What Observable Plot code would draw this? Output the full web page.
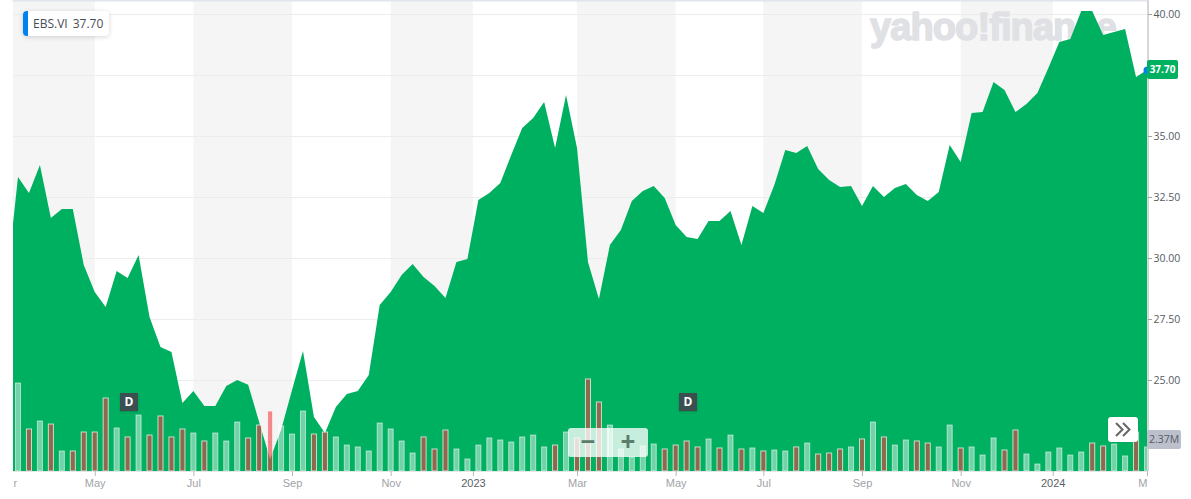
<!DOCTYPE html>
<html>
<head>
<meta charset="utf-8">
<script src="https://cdn.jsdelivr.net/npm/d3@7"></script>
<script src="https://cdn.jsdelivr.net/npm/@observablehq/plot@0.6"></script>
<style>
html,body{margin:0;padding:0;background:#fff;overflow:hidden}
#wrap{position:relative;width:1191px;height:499px;font-family:"Open Sans",sans-serif}
#wrap>svg{position:absolute;left:0;top:0}
.chip{position:absolute;box-sizing:border-box;white-space:nowrap}
#ticker{left:23px;top:11px;width:86px;height:25px;background:#fff;border-radius:4px;border-left:5px solid #0081f2;box-shadow:0 1px 5px rgba(0,0,0,.16);font-size:12px;line-height:25px;color:#464e56;padding-left:5px;font-weight:500}
#ticker span{margin-left:5px}
#last{left:1147px;top:60px;width:31px;height:19px;background:#00b061;border-radius:2px;color:#fff;font-size:10px;font-weight:700;line-height:19px;text-align:center}
#vol{left:1147px;top:430px;width:34px;height:19px;background:#bcbfcc;border-radius:2px;color:#565c63;font-size:10.5px;line-height:19px;text-align:center}
.d{top:393px;width:18px;height:18px;background:#3c4f50;color:#fff;font-size:12px;font-weight:700;line-height:18px;text-align:center;box-shadow:0 1px 2px rgba(0,0,0,.2)}
#zoombox{left:568px;top:428px;width:80px;height:29px;border-radius:3px;background:rgba(255,255,255,.78);color:#5c7c6c;font-size:26px;font-weight:700;line-height:27px}
#zoombox span{position:absolute;top:0;width:40px;text-align:center}
#zoombox i{position:absolute;left:40px;top:0;width:1px;height:29px;background:rgba(255,255,255,.5)}
#more{left:1108px;top:417px;width:30px;height:25px;background:#fff;border-radius:3px;box-shadow:0 0 2px rgba(0,0,0,.1)}
#more svg{position:absolute;left:7px;top:5px}
</style>
</head>
<body>
<div id="wrap"></div>
<script>
// Week index -1 is the point just left of the visible window
const prices = [29.14,33.32,32.66,33.81,31.64,32.01,32.01,29.71,28.61,27.99,29.47,29.18,30.12,27.58,26.35,26.15,24.06,24.55,23.93,23.93,24.75,25.00,24.80,23.28,21.76,22.95,24.59,26.19,23.48,22.83,23.89,24.43,24.55,25.20,28.07,28.61,29.30,29.75,29.22,28.85,28.36,29.84,29.96,32.38,32.66,33.07,34.22,35.33,35.74,36.39,34.51,36.68,34.51,29.84,28.32,30.53,31.15,32.34,32.75,32.95,32.46,31.35,30.86,30.78,31.52,31.52,31.93,30.53,32.13,31.84,32.99,34.43,34.30,34.59,33.65,33.20,32.91,32.95,32.13,32.95,32.50,32.87,33.03,32.58,32.34,32.70,34.63,33.93,35.94,35.98,37.21,36.89,35.98,36.31,36.76,37.79,38.85,38.98,40.12,40.12,39.14,39.26,39.39,37.42,37.70];
const volumes = [6.95,3.32,3.95,3.71,1.58,1.58,3.08,3.08,5.77,3.40,2.69,4.42,2.84,4.35,2.69,3.32,3.00,2.37,3.00,2.37,3.87,2.61,3.63,4.74,3.56,2.92,4.74,2.92,3.08,2.69,2.05,1.90,1.58,3.79,3.32,2.37,1.42,2.69,1.74,3.24,1.74,0.95,2.05,2.61,2.45,2.29,2.69,2.84,1.90,2.05,3.08,2.61,7.27,5.45,3.63,1.74,1.11,1.98,2.13,1.74,2.05,2.37,1.90,2.53,1.82,2.84,1.74,1.82,1.58,1.66,1.58,1.90,2.21,1.34,1.42,1.74,1.90,2.53,3.87,2.69,2.05,2.45,2.37,2.21,1.90,3.63,1.82,1.90,1.26,2.61,1.66,3.24,1.34,0.55,1.50,1.82,1.26,1.50,2.21,1.98,2.13,1.19,3.08,1.90];
const downWeeks = [1,3,5,6,7,8,10,12,13,14,15,17,21,22,23,27,28,37,38,39,49,51,52,53,59,60,61,62,64,66,68,71,73,74,75,77,79,82,83,86,90,91,98,99,102];
const tickWeeks = [-0.456,7,16,25,34,41.5,51,60,68,77,86,94.4,103];
const tickLabels = ["r","May","Jul","Sep","Nov","2023","Mar","May","Jul","Sep","Nov","2024","M"];
const bandStarts = [-0.456,16,34,51,68,86];
const bandEnds = [7,25,41.5,60,77,94.4];
const gridValues = [22.5,25,27.5,30,32.5,35,37.5,40];
const axisValues = [25,27.5,30,32.5,35,40];

const yMin = 21.27, yMax = 40;
const pricePerMillion = 1 / 0.079 / 24.4;
const priceRows = prices.map((p, i) => ({week: i - 1, price: p}));
const volRows = volumes.map((v, i) => ({week: i, top: yMin + v * pricePerMillion, down: downWeeks.includes(i)}));
const bands = bandStarts.map((s, i) => ({s, e: bandEnds[i]}));
const ticks = tickWeeks.map((w, i) => ({w, label: tickLabels[i], color: /^\d/.test(tickLabels[i]) ? "#5a5f66" : "#a0a3a8"}));
const barHalf = 0.23;
const tightText = (index, scales, values, dims, ctx, next) => {
  const g = next(index, scales, values, dims, ctx);
  g.style.letterSpacing = "-0.9px";
  return g;
};

const chart = Plot.plot({
  width: 1191, height: 499,
  marginLeft: 13, marginRight: 44, marginTop: 0, marginBottom: 28,
  style: {background: "transparent"},
  x: {type: "linear", domain: [-0.456, 103], range: [13, 1147], axis: null},
  y: {domain: [yMin, yMax], range: [471, 14], axis: null},
  marks: [
    Plot.rectX(bands, {x1: "s", x2: "e", fill: "#f5f5f6"}),
    Plot.frame({anchor: "top", stroke: "#e1e5ec", strokeWidth: 2}),
    Plot.ruleY(gridValues, {stroke: "#ececed", strokeWidth: 1}),
    Plot.text(["yahoo!finance"], {x: () => 88.9, y: () => 39.45, text: d => d, fill: "#dfe1e5", stroke: "#dfe1e5", strokeWidth: 1.5, fontFamily: "Liberation Sans", fontWeight: 700, fontSize: 38, render: tightText}),
    Plot.areaY(priceRows, {x: "week", y1: () => yMin, y2: "price", fill: "#00b061", clip: true}),
    Plot.rect(volRows.filter(d => !d.down), {x1: d => d.week - barHalf, x2: d => d.week + barHalf, y1: () => yMin, y2: "top", fill: "#fff", fillOpacity: 0.45, stroke: "#fff", strokeOpacity: 0.55, clip: true}),
    Plot.rect(volRows.filter(d => d.down), {x1: d => d.week - barHalf, x2: d => d.week + barHalf, y1: () => yMin, y2: "top", fill: "#f23a3f", fillOpacity: 0.59, stroke: "#fff", strokeOpacity: 0.7, clip: true}),
    Plot.ruleY([yMin], {stroke: "#e4e6e8", strokeWidth: 1}),
    Plot.ruleX([103.05], {stroke: "#c8c9cb", strokeWidth: 1.5, y1: () => yMin, y2: () => 40.55}),
    Plot.axisX({anchor: "bottom", ticks: tickWeeks.slice(1), tickFormat: () => "", tickSize: 5, stroke: "#b8b9bb"}),
    Plot.text(ticks.slice(1, -1), {x: "w", text: "label", frameAnchor: "bottom", dy: 15, fill: "color", fontSize: 11, fontFamily: "Liberation Sans"}),
    Plot.text(ticks.slice(0, 1), {x: "w", text: "label", frameAnchor: "bottom", dy: 15, fill: "color", fontSize: 11, fontFamily: "Liberation Sans", textAnchor: "start"}),
    Plot.text(ticks.slice(-1), {x: "w", text: "label", frameAnchor: "bottom", dy: 15, fill: "color", fontSize: 11, fontFamily: "Liberation Sans", textAnchor: "end"}),
    Plot.axisY({anchor: "right", ticks: axisValues, tickFormat: d3.format(".2f"), tickSize: 4, tickPadding: 2, fontSize: 10.5, fontFamily: "Open Sans", color: "#555b62", stroke: "#9ea1a5", label: null}),
    Plot.dot(priceRows.slice(-1), {x: "week", y: "price", r: 4, fill: "#0081f2"})
  ]
});
const wrap = document.getElementById("wrap");
wrap.appendChild(chart);
const overlay = [
  '<div class="chip" id="ticker">EBS.VI<span>37.70</span></div>',
  '<div class="chip" id="last">37.70</div>',
  '<div class="chip" id="vol">2.37M</div>',
  '<div class="chip d" style="left:120px">D</div>',
  '<div class="chip d" style="left:679px">D</div>',
  '<div class="chip" id="zoombox"><span style="left:0">\u2212</span><i></i><span style="left:40px">+</span></div>',
  '<div class="chip" id="more"><svg width="16" height="15" fill="none" stroke="#666" stroke-width="2"><path d="M1 1l6.5 6.5L1 14M8 1l6.5 6.5L8 14"/></svg></div>'
];
wrap.insertAdjacentHTML("beforeend", overlay.join(""));
</script>
</body>
</html>
